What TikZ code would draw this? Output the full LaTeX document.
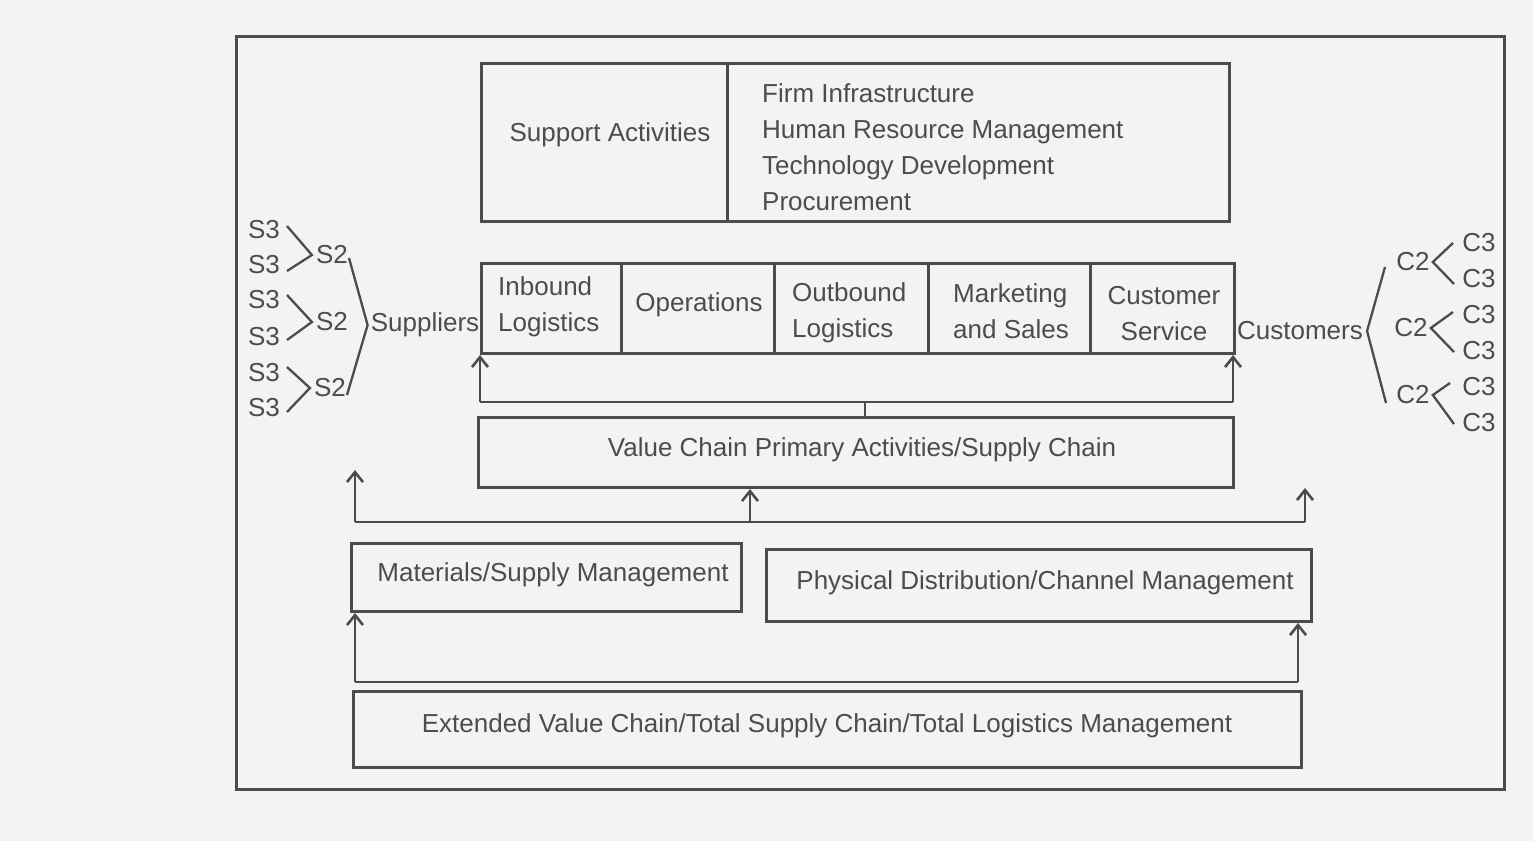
\documentclass[tikz,border=0pt]{standalone}
\usepackage{fontspec}
\setmainfont{Liberation Sans}
\usetikzlibrary{arrows.meta}
\definecolor{ink}{HTML}{4E4B4B}
\definecolor{paper}{HTML}{F5F2F2}
\tikzset{
  every node/.style={text=ink, font=\fontsize{26}{36}\selectfont},
  boxn/.style={draw=ink, line width=3pt, inner sep=0pt, anchor=north west},
  lbl/.style={inner sep=2pt},
  conn/.style={draw=ink, line width=2.8pt},
  thin/.style={draw=ink, line width=2.3pt, line join=miter},
  arr/.style={draw=ink, line width=2.8pt, -{Straight Barb[length=10pt,width=16pt,line width=2.6pt]}},
}
\begin{document}
\begin{tikzpicture}[x=1pt,y=-1pt]
\useasboundingbox (0,0) rectangle (1533,841);
\fill[paper] (0,0) rectangle (1533,841);
% outer frame
\draw[ink, line width=3pt] (236,36) rectangle (1504,789);

% support activities
\node[boxn, minimum width=246pt, minimum height=158pt] (sa) at (480,62) {};
\node[lbl] (satext) at (610,135) {Support Activities};
\node[boxn, minimum width=502pt, minimum height=158pt] (sl) at (726,62) {};
\node[lbl, anchor=north west, align=left] (sltext) at (760,81) {Firm Infrastructure\\Human Resource Management\\Technology Development\\Procurement};

% primary activities row
\node[boxn, minimum width=140pt, minimum height=90pt] (p1) at (480,262) {};
\node[boxn, minimum width=153pt, minimum height=90pt] (p2) at (620,262) {};
\node[boxn, minimum width=154pt, minimum height=90pt] (p3) at (773,262) {};
\node[boxn, minimum width=162pt, minimum height=90pt] (p4) at (927,262) {};
\node[boxn, minimum width=144pt, minimum height=90pt] (p5) at (1089,262) {};
\node[lbl, align=left, anchor=west] at (496,307) {Inbound\\Logistics};
\node[lbl] at (699,305) {Operations};
\node[lbl, align=left, anchor=west] at (790,313) {Outbound\\Logistics};
\node[lbl, align=left, anchor=west] at (951,311) {Marketing\\and Sales};
\node[lbl, align=center] at (1164,314) {Customer\\Service};

% band under primary row
\coordinate (bl) at (480,402);
\coordinate (br) at (1233,402);
\draw[conn] (bl) -- (br);
\draw[arr] (bl) -- (bl |- p1.south);
\draw[arr] (br) -- (br |- p5.south);

% value chain box
\node[boxn, minimum width=755pt, minimum height=70pt] (vc) at (477,416) {};
\node[lbl] at (862,450) {Value Chain Primary Activities/Supply Chain};
\coordinate (tick) at (865,402);
\draw[conn, line width=1.8pt] (tick) -- (tick |- vc.north);

% suppliers side
\foreach \i/\y in {a/230,b/265,c/300,d/337,e/373,f/408}
  \node[lbl, inner sep=1pt] (s3\i) at (264,\y) {S3};
\node[lbl, inner sep=1pt] (s2a) at (332,255) {S2};
\node[lbl, inner sep=1pt] (s2b) at (332,322) {S2};
\node[lbl, inner sep=1pt] (s2c) at (330,388) {S2};
\node[lbl, inner sep=1pt] (sup) at (425,325) {Suppliers};
\coordinate (sa1) at (287,226); \coordinate (sa2) at (287,271);
\coordinate (sb1) at (287,295); \coordinate (sb2) at (287,340);
\coordinate (sc1) at (287,367); \coordinate (sc2) at (287,412);
\draw[thin] (sa1) -- ([xshift=-3pt]s2a.west) -- (sa2);
\draw[thin] (sb1) -- ([xshift=-3pt]s2b.west) -- (sb2);
\draw[thin] (sc1) -- ([xshift=-3pt]s2c.west) -- (sc2);
\coordinate (sbt) at (349,258); \coordinate (sbb) at (347,395);
\draw[thin] (sbt) -- ([xshift=-2pt]sup.west) -- (sbb);

% customers side
\node[lbl, inner sep=1pt] (cus) at (1300,331) {Customers};
\node[lbl, inner sep=1pt] (c2a) at (1413,262) {C2};
\node[lbl, inner sep=1pt] (c2b) at (1411,328) {C2};
\node[lbl, inner sep=1pt] (c2c) at (1413,395) {C2};
\foreach \i/\y in {a/243,b/279,c/315,d/351,e/387,f/423}
  \node[lbl, inner sep=1pt] (c3\i) at (1479,\y) {C3};
\coordinate (cbt) at (1385,267); \coordinate (cbb) at (1386,403);
\draw[thin] (cbt) -- ([xshift=3pt]cus.east) -- (cbb);
\coordinate (ca1) at (1453,243); \coordinate (ca2) at (1454,284);
\coordinate (cb1) at (1453,312); \coordinate (cb2) at (1454,352);
\coordinate (cc1) at (1450,383); \coordinate (cc2) at (1454,424);
\draw[thin] (ca1) -- ([xshift=2pt]c2a.east) -- (ca2);
\draw[thin] (cb1) -- ([xshift=2pt]c2b.east) -- (cb2);
\draw[thin] (cc1) -- ([xshift=2pt]c2c.east) -- (cc2);

% bracket 1
\coordinate (b1l) at (355,522);
\coordinate (b1r) at (1305,522);
\coordinate (b1m) at (750,522);
\coordinate (b1lt) at (355,470);
\coordinate (b1rt) at (1305,488);
\draw[conn] (b1l) -- (b1r);
\draw[arr] (b1l) -- (b1lt);
\draw[arr] (b1r) -- (b1rt);
\draw[arr] (b1m) -- (b1m |- vc.south);

% management boxes
\node[boxn, minimum width=390pt, minimum height=68pt] (msm) at (350,542) {};
\node[lbl] at (553,575) {Materials/Supply Management};
\node[boxn, minimum width=545pt, minimum height=72pt] (pdc) at (765,548) {};
\node[lbl] at (1045,583) {Physical Distribution/Channel Management};

% bracket 2
\coordinate (b2l) at (355,682);
\coordinate (b2r) at (1298,682);
\draw[conn] (b2l) -- (b2r);
\draw[arr] (b2l) -- (b2l |- msm.south);
\draw[arr] (b2r) -- (b2r |- pdc.south);

% extended box
\node[boxn, minimum width=948pt, minimum height=76pt] (ext) at (352,690) {};
\node[lbl] at (827,726) {Extended Value Chain/Total Supply Chain/Total Logistics Management};
\end{tikzpicture}
\end{document}
